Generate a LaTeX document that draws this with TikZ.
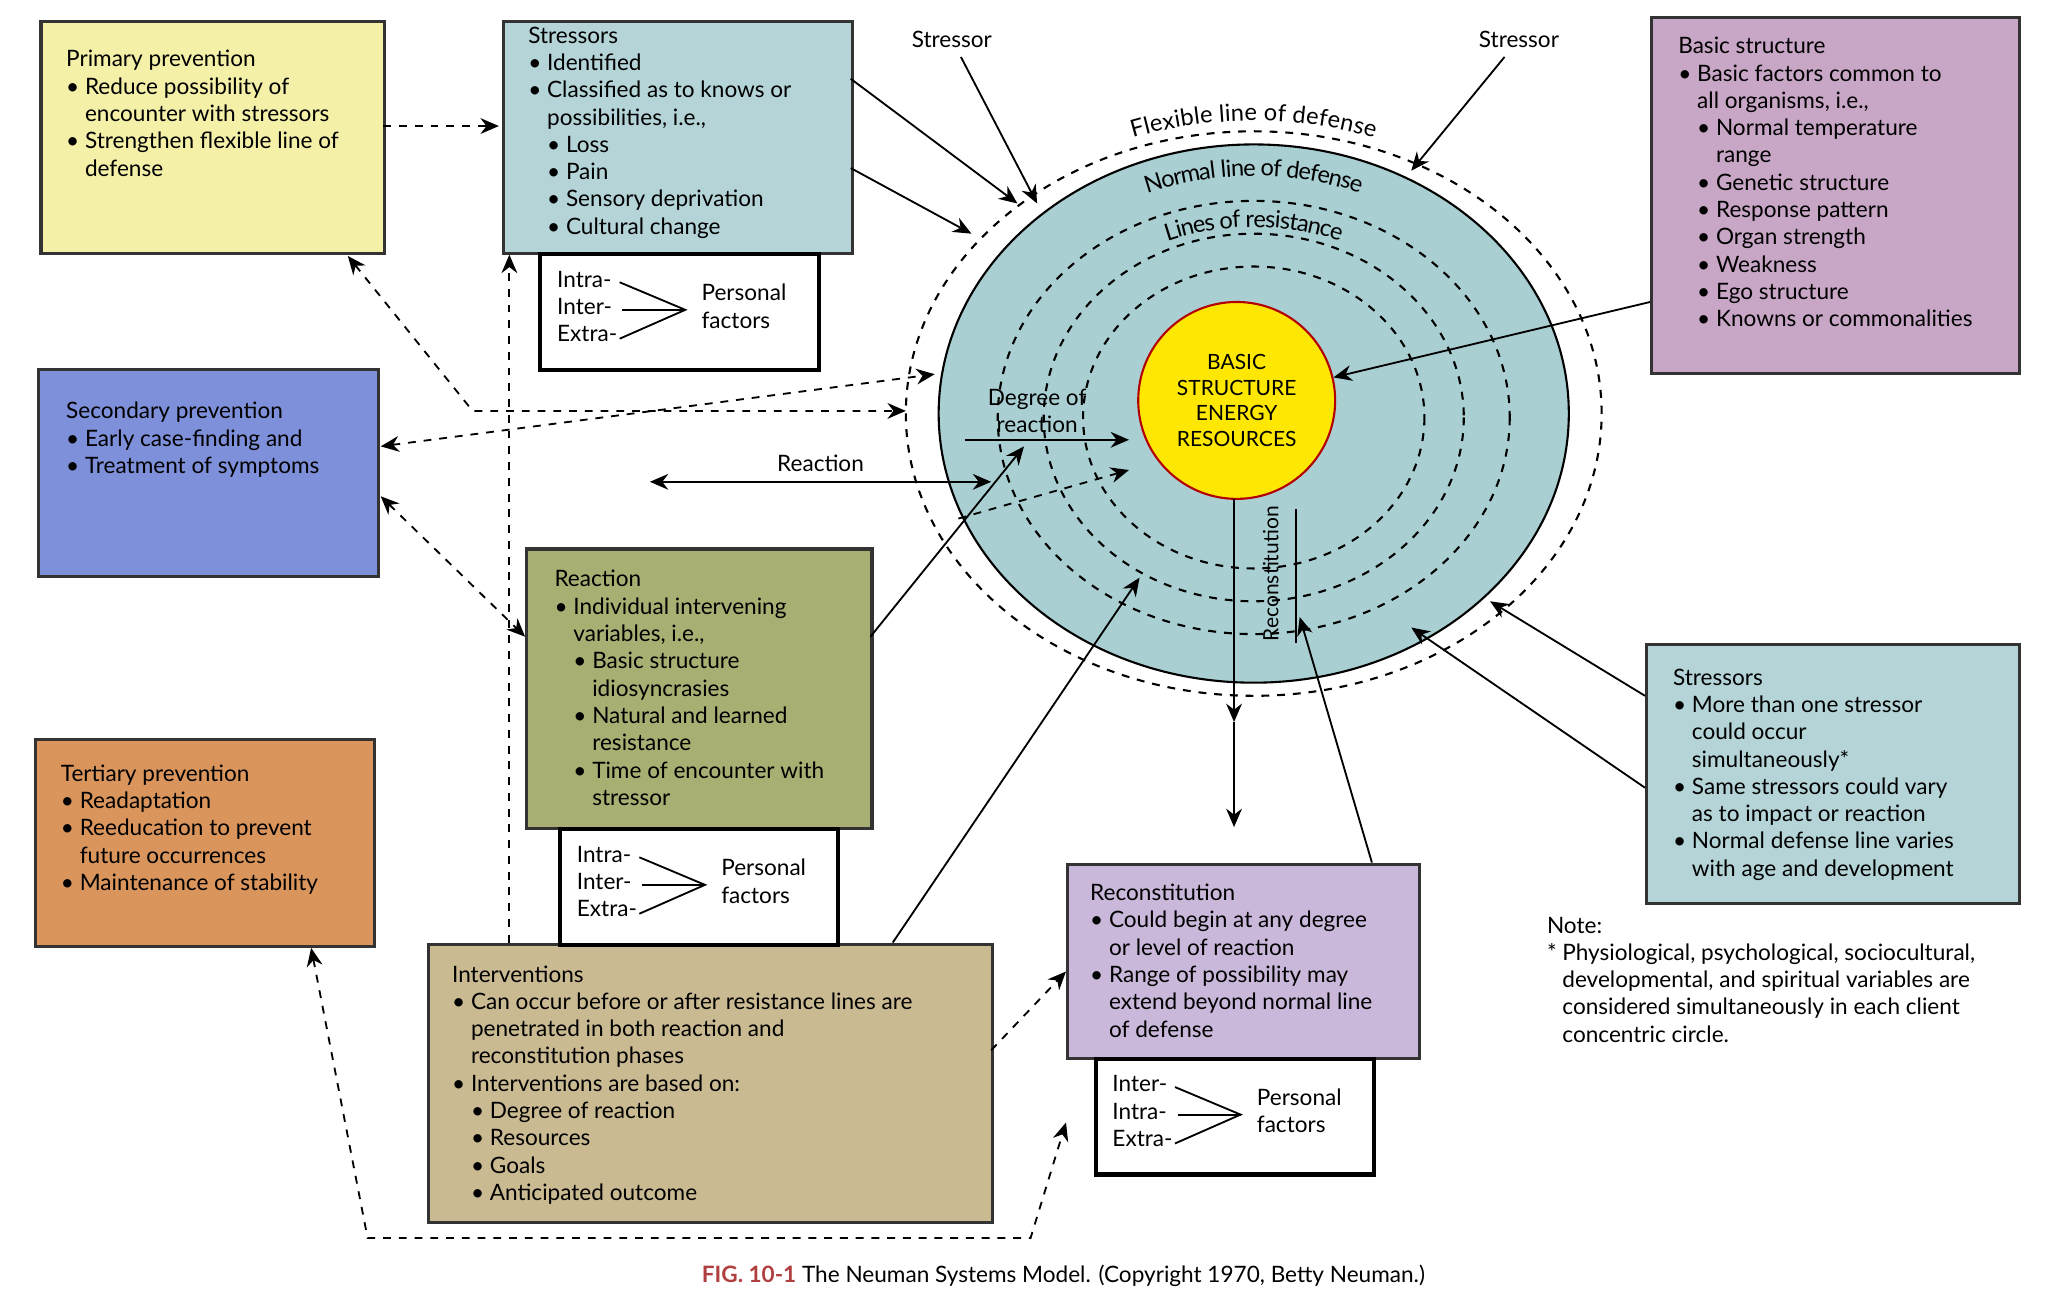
\documentclass[tikz,border=0pt]{standalone}
\usepackage{fontspec}
\setmainfont{Lato}
\usetikzlibrary{arrows.meta,decorations.text,shapes.geometric}
\begin{document}
\begin{tikzpicture}[x=0.5pt,y=-0.5pt,
  box/.style={draw=black!80,line width=1.2pt,anchor=north west,inner sep=0},
  txt/.style={anchor=north west,align=left,font=\fontsize{8.6}{10.4}\selectfont,inner sep=0},
  pf/.style={draw=black,line width=1.6pt,fill=white,anchor=north west,minimum width=106pt,minimum height=44pt},
  arr/.style={-{Stealth[length=7pt,width=6pt]},line width=0.7pt},
  darr/.style={arr,dashed},
  ddarr/.style={{Stealth[length=7pt,width=6pt]}-{Stealth[length=7pt,width=6pt]},line width=0.7pt,dashed}]
\useasboundingbox (0,0) rectangle (1560,993);
\definecolor{cyel}{HTML}{F4F0A8}\definecolor{cblu}{HTML}{B4D4D8}\definecolor{cpur}{HTML}{C8A6C6}
\definecolor{csec}{HTML}{7E90DA}\definecolor{colv}{HTML}{A9AE72}\definecolor{cor}{HTML}{D9955C}
\definecolor{ctan}{HTML}{CABA92}\definecolor{clav}{HTML}{C9B8DA}\definecolor{cell}{HTML}{A9CFD2}
\definecolor{ccap}{HTML}{B04040}
% ellipse
\node[draw,dashed,line width=0.8pt,ellipse,minimum width=265pt,minimum height=215pt] (outer) at (955,315) {};
\draw[fill=cell,line width=0.8pt] (955,315) ellipse [x radius=240,y radius=205];
\foreach \r/\s in {195/165,160/140,130/115} \draw[dashed,line width=0.8pt] (955,318) ellipse [x radius=\r,y radius=\s];
\node[circle,draw=red!70!black,fill=yellow!90!orange,minimum size=75pt,inner sep=0,line width=0.8pt,align=center,font=\fontsize{8}{9.8}\selectfont] (core) at (942,305) {BASIC\\STRUCTURE\\ENERGY\\RESOURCES};
\path[decorate,decoration={text along path,text align=center,raise=4pt,text={|\fontsize{9}{10}\selectfont|Flexible line of defense}}] (955,315) ++(245:265 and 215) arc (245:295:265 and 215);
\path[decorate,decoration={text along path,text align=center,raise=-12pt,text={|\fontsize{9}{10}\selectfont|Normal line of defense}}] (955,315) ++(245:240 and 205) arc (245:295:240 and 205);
\path[decorate,decoration={text along path,text align=center,raise=-10pt,text={|\fontsize{9}{10}\selectfont|Lines of resistance}}] (955,318) ++(240:195 and 165) arc (240:300:195 and 165);
% boxes
\node[box,fill=cyel,minimum width=131pt,minimum height=88.5pt] (prim) at (30,15) {};
\node[txt] at (50,38) {Primary prevention\\\textbullet\ Reduce possibility of\\\phantom{\textbullet\ }encounter with stressors\\\textbullet\ Strengthen flexible line of\\\phantom{\textbullet\ }defense};
\node[box,fill=cblu,minimum width=133pt,minimum height=88.5pt] (str1) at (382,15) {};
\node[txt] at (402,20) {Stressors\\\textbullet\ Identified\\\textbullet\ Classified as to knows or\\\phantom{\textbullet\ }possibilities, i.e.,\\\phantom{\textbullet\ }\textbullet\ Loss\\\phantom{\textbullet\ }\textbullet\ Pain\\\phantom{\textbullet\ }\textbullet\ Sensory deprivation\\\phantom{\textbullet\ }\textbullet\ Cultural change};
\node[box,fill=cpur,minimum width=140pt,minimum height=135.5pt] (bas) at (1257,12) {};
\node[txt] at (1278,28) {Basic structure\\\textbullet\ Basic factors common to\\\phantom{\textbullet\ }all organisms, i.e.,\\\phantom{\textbullet\ }\textbullet\ Normal temperature\\\phantom{\textbullet\ \textbullet\ }range\\\phantom{\textbullet\ }\textbullet\ Genetic structure\\\phantom{\textbullet\ }\textbullet\ Response pattern\\\phantom{\textbullet\ }\textbullet\ Organ strength\\\phantom{\textbullet\ }\textbullet\ Weakness\\\phantom{\textbullet\ }\textbullet\ Ego structure\\\phantom{\textbullet\ }\textbullet\ Knowns or commonalities};
\node[box,fill=csec,minimum width=129.5pt,minimum height=79pt] (sec) at (28,280) {};
\node[txt] at (50,306) {Secondary prevention\\\textbullet\ Early case-finding and\\\textbullet\ Treatment of symptoms};
\node[box,fill=colv,minimum width=131.5pt,minimum height=106.5pt] (rea) at (400,417) {};
\node[txt] at (422,434) {Reaction\\\textbullet\ Individual intervening\\\phantom{\textbullet\ }variables, i.e.,\\\phantom{\textbullet\ }\textbullet\ Basic structure\\\phantom{\textbullet\ \textbullet\ }idiosyncrasies\\\phantom{\textbullet\ }\textbullet\ Natural and learned\\\phantom{\textbullet\ \textbullet\ }resistance\\\phantom{\textbullet\ }\textbullet\ Time of encounter with\\\phantom{\textbullet\ \textbullet\ }stressor};
\node[box,fill=cor,minimum width=129pt,minimum height=79pt] (ter) at (26,562) {};
\node[txt] at (46,582) {Tertiary prevention\\\textbullet\ Readaptation\\\textbullet\ Reeducation to prevent\\\phantom{\textbullet\ }future occurrences\\\textbullet\ Maintenance of stability};
\node[box,fill=ctan,minimum width=215pt,minimum height=106pt] (int) at (325,718) {};
\node[txt] at (344,735) {Interventions\\\textbullet\ Can occur before or after resistance lines are\\\phantom{\textbullet\ }penetrated in both reaction and\\\phantom{\textbullet\ }reconstitution phases\\\textbullet\ Interventions are based on:\\\phantom{\textbullet\ }\textbullet\ Degree of reaction\\\phantom{\textbullet\ }\textbullet\ Resources\\\phantom{\textbullet\ }\textbullet\ Goals\\\phantom{\textbullet\ }\textbullet\ Anticipated outcome};
\node[box,fill=clav,minimum width=134pt,minimum height=74pt] (rec) at (812,657) {};
\node[txt] at (830,673) {Reconstitution\\\textbullet\ Could begin at any degree\\\phantom{\textbullet\ }or level of reaction\\\textbullet\ Range of possibility may\\\phantom{\textbullet\ }extend beyond normal line\\\phantom{\textbullet\ }of defense};
\node[box,fill=cblu,minimum width=142pt,minimum height=98.5pt] (str2) at (1253,490) {};
\node[txt] at (1274,509) {Stressors\\\textbullet\ More than one stressor\\\phantom{\textbullet\ }could occur\\\phantom{\textbullet\ }simultaneously*\\\textbullet\ Same stressors could vary\\\phantom{\textbullet\ }as to impact or reaction\\\textbullet\ Normal defense line varies\\\phantom{\textbullet\ }with age and development};
\node[txt] (note) at (1178,698) {Note:\\* Physiological, psychological, sociocultural,\\\phantom{* }developmental, and spiritual variables are\\\phantom{* }considered simultaneously in each client\\\phantom{* }concentric circle.};
% personal factor boxes
\foreach \nm/\x/\y/\la/\lb in {pfa/410/192/Intra-/Inter-,pfb/425/630/Intra-/Inter-,pfc/833/805/Inter-/Intra-}{
 \node[pf] (\nm) at (\x,\y) {};
 \node[txt] at (\x+14,\y+14) {\la\\\lb\\Extra-};
 \coordinate (\nm m) at (\x+112,\y+44);
 \draw[line width=0.7pt] (\x+62,\y+23) -- (\nm m) -- (\x+62,\y+66);
 \draw[line width=0.7pt] (\x+64,\y+44) -- (\nm m);
 \node[txt] at (\x+124,\y+24) {Personal\\factors};
}
% labels
\node[font=\fontsize{8.6}{10}\selectfont] (s1) at (725,30) {Stressor};
\node[font=\fontsize{8.6}{10}\selectfont] (s2) at (1157,30) {Stressor};
\coordinate (e1) at (790,155); \coordinate (e2) at (1075,130);
\draw[arr] (s1) -- (e1); \draw[arr] (s2) -- (e2);
\coordinate (a1) at (648,60); \coordinate (a1e) at (775,155);
\coordinate (a2) at (648,128); \coordinate (a2e) at (740,178);
\draw[arr] (a1) -- (a1e); \draw[arr] (a2) -- (a2e);
\coordinate (b1) at (1257,230); \draw[arr] (b1) -- (core);
\coordinate (r1) at (1253,530); \coordinate (r1e) at (1135,458);
\coordinate (r2) at (1253,600); \coordinate (r2e) at (1075,478);
\draw[arr] (r1) -- (r1e); \draw[arr] (r2) -- (r2e);
% dashed connectors
\coordinate (p1) at (292,96); \coordinate (p1e) at (380,96);
\draw[darr] (p1) -- (p1e);
\coordinate (p2) at (265,195); \coordinate (p2m) at (360,313); \coordinate (p2e) at (690,313);
\draw[ddarr] (p2) -- (p2m) -- (p2e);
\coordinate (sc1) at (290,340); \coordinate (sc1e) at (712,285);
\draw[ddarr] (sc1) -- (sc1e);
\coordinate (sc2) at (290,378); \coordinate (sc2e) at (400,485);
\draw[ddarr] (sc2) -- (sc2e);
\coordinate (v1) at (388,718); \coordinate (v1e) at (388,194);
\draw[darr] (v1) -- (v1e);
\coordinate (t1) at (237,722); \coordinate (t2) at (280,943); \coordinate (t3) at (785,943); \coordinate (t4) at (812,855);
\draw[ddarr] (t1) -- (t2) -- (t3) -- (t4);
\coordinate (i1) at (755,800); \coordinate (i1e) at (812,740);
\draw[darr] (i1) -- (i1e);
\coordinate (dr1) at (730,395); \coordinate (dr1e) at (860,358);
\draw[darr] (dr1) -- (dr1e);
% solid connectors
\node[font=\fontsize{8.6}{10}\selectfont] (rl) at (625,353) {Reaction};
\coordinate (rx1) at (495,367); \coordinate (rx2) at (755,367);
\draw[arr,{Stealth[length=7pt,width=6pt]}-{Stealth[length=7pt,width=6pt]}] (rx1) -- (rx2);
\node[align=center,font=\fontsize{8.6}{10}\selectfont] (dg) at (790,313) {Degree of\\reaction};
\coordinate (dg1) at (735,335); \coordinate (dg2) at (860,335);
\draw[arr] (dg1) -- (dg2);
\coordinate (rb) at (663,485); \coordinate (rbe) at (780,340);
\draw[arr] (rb) -- (rbe);
\coordinate (ib) at (680,718); \coordinate (ibe) at (868,440);
\draw[arr] (ib) -- (ibe);
\coordinate (rc1) at (940,380); \coordinate (rc2) at (940,550); \coordinate (rc3) at (940,630);
\draw[arr] (rc1) -- (rc2); \draw[arr] (rc2) -- (rc3);
\node[rotate=90,font=\fontsize{8}{9}\selectfont] at (968,437) {Reconstitution};
\draw[line width=0.9pt] (987,388) -- (987,490);
\coordinate (rcb) at (1045,657); \coordinate (rcbe) at (990,470);
\draw[arr] (rcb) -- (rcbe);
% caption
\node[font=\fontsize{8.6}{10}\selectfont] (cap) at (810,972) {\textcolor{ccap}{\textbf{FIG. 10-1}} The Neuman Systems Model. (Copyright 1970, Betty Neuman.)};
\end{tikzpicture}
\end{document}
